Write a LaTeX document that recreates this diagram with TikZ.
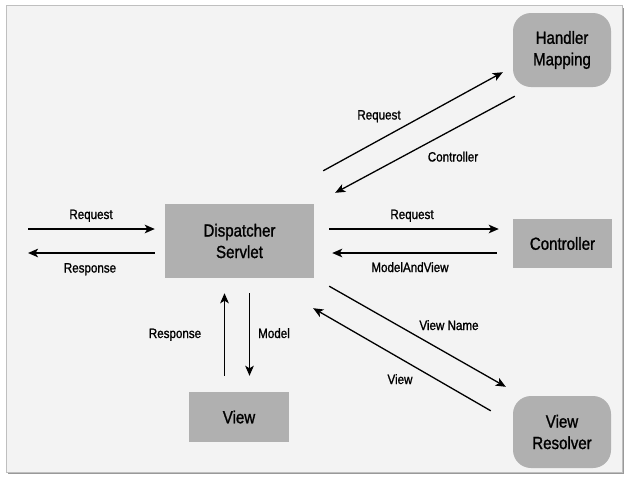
\documentclass[tikz,border=0pt]{standalone}
\usepackage{fontspec}
\setmainfont{Liberation Sans}[FakeStretch=0.86, BoldFont=Liberation Sans, BoldFeatures={FakeBold=1.2}]
\usepackage{tikz}
\usetikzlibrary{positioning, calc, arrows.meta}

\definecolor{boxgray}{RGB}{176,176,176}
\definecolor{panel}{RGB}{243,243,243}

\tikzset{
    box/.style={fill=boxgray, font=\fontsize{17.5}{21.5}\selectfont\bfseries, align=center, inner sep=0pt},
    roundbox/.style={box, rounded corners=18pt},
    lbl/.style={font=\fontsize{13.5}{16}\selectfont\bfseries, anchor=base, inner sep=0pt},
    flow/.style={line width=1.9pt, -{Stealth[length=10pt, width=8.5pt, inset=2.5pt]}},
    thinflow/.style={line width=1.3pt, -{Stealth[length=10pt, width=8.5pt, inset=2.5pt]}}
}

\begin{document}
\begin{tikzpicture}[x=1pt, y=-1pt]
    % page and panel
    \useasboundingbox (0,0) rectangle (629,480);
    \fill[white] (0,0) rectangle (629,480);
    \fill[black!40] (8,8) rectangle (624,474);
    \fill[panel] (6,5) rectangle (622,472);
    \draw[black!25, line width=0.6pt] (6,5) rectangle (622,472);

    % boxes
    \node[box, minimum width=149pt, minimum height=74pt] (ds) at (239.5,241) {Dispatcher\\Servlet};
    \node[box, minimum width=99pt, minimum height=49pt] (ctrl) at (562.5,243.5) {Controller};
    \node[box, minimum width=100pt, minimum height=50pt] (view) at (239,417) {View};
    \node[roundbox, minimum width=98pt, minimum height=74pt] (hm) at (562,50) {Handler\\Mapping};
    \node[roundbox, minimum width=98pt, minimum height=72pt] (vr) at (562,432) {View\\Resolver};

    % client side
    \coordinate (cin) at (28,229);
    \coordinate (cout) at (28,253);
    \draw[flow, shorten >=10pt] (cin) -- (cin -| ds.west);
    \draw[flow, shorten <=10pt] (cout -| ds.west) -- (cout);
    \node[lbl] (reqin) at (91,219) {Request};
    \node[lbl] (respout) at (90,272.5) {Response};

    % controller
    \draw[flow, shorten <=15pt, shorten >=14pt] ([yshift=12pt]ds.east) -- ([yshift=12pt]ds.east -| ctrl.west);
    \draw[flow, shorten <=16pt, shorten >=18pt] ([yshift=-12pt]ds.east -| ctrl.west) -- ([yshift=-12pt]ds.east);
    \node[lbl] (reqctrl) at (412,219) {Request};
    \node[lbl] (mav) at (410,272) {ModelAndView};

    % handler mapping
    \draw[thinflow] ([shift={(9,-33)}]ds.north east) -- ([shift={(-10,-15)}]hm.south west);
    \draw[thinflow] ([shift={(2,9)}]hm.south west) -- ([shift={(21,-11)}]ds.north east);
    \node[lbl] (reqhm) at (379,119.5) {Request};
    \node[lbl] (ctrlhm) at (453,161.5) {Controller};

    % view resolver
    \draw[thinflow] ([shift={(15,8)}]ds.south east) -- ([shift={(-7,-9)}]vr.north west);
    \draw[thinflow] ([shift={(-22,15)}]vr.north west) -- ([shift={(-1,30)}]ds.south east);
    \node[lbl] (vname) at (449,330) {View Name};
    \node[lbl] (vback) at (400,384) {View};

    % view
    \draw[flow, shorten <=16pt, shorten >=15pt] ([xshift=-14.5pt]view.north) -- ([xshift=-14.5pt]view.north |- ds.south);
    \draw[flow, shorten <=15pt, shorten >=16pt] ([xshift=10.5pt]view.north |- ds.south) -- ([xshift=10.5pt]view.north);
    \node[lbl] (respv) at (175,338) {Response};
    \node[lbl] (model) at (274,338) {Model};
\end{tikzpicture}
\end{document}
